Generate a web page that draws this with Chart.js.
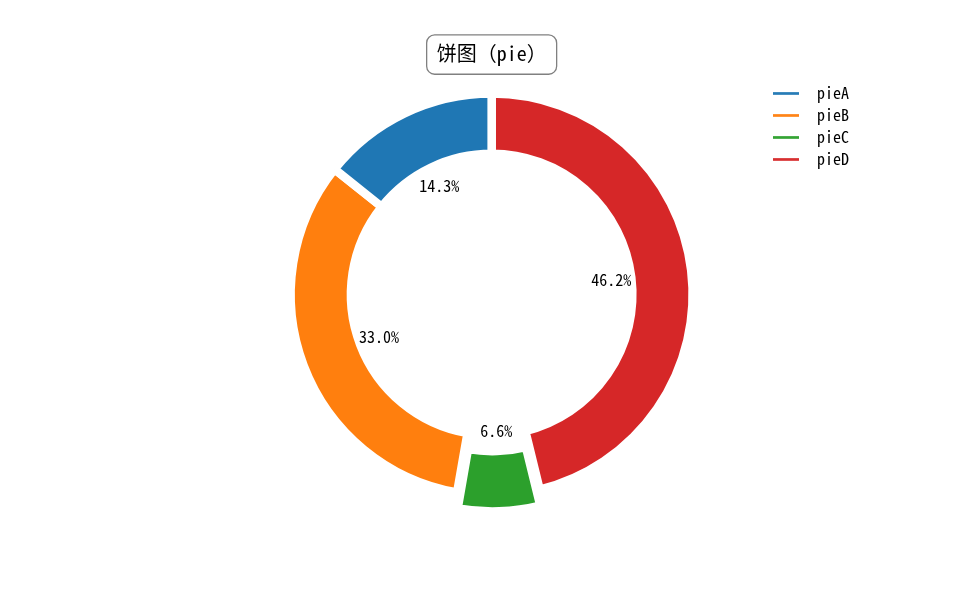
<!DOCTYPE html>
<html lang="zh">
<head>
<meta charset="UTF-8">
<title>饼图（pie）</title>
<script src="https://cdn.jsdelivr.net/npm/chart.js"></script>
<style>
  html, body { margin: 0; padding: 0; background: #fff; }
  #wrap { width: 960px; height: 600px; }
</style>
</head>
<body>
<div id="wrap"><canvas id="pieChart"></canvas></div>
<script>
const categories = ['pieA', 'pieB', 'pieC', 'pieD'];
const shares = [14.3, 33.0, 6.6, 46.2];
const colors = ['#1f77b4', '#ff7f0e', '#2ca02c', '#d62728'];
const explodePx = [0, 0, 16, 0];

const FONT = '"Noto Sans Mono CJK SC", "DejaVu Sans Mono", "Noto Sans CJK SC", monospace';
const TITLE_SIZE = 20;

// the reference goes counter-clockwise from 12 o'clock, Chart.js goes clockwise,
// so the dataset gets the categories in reverse
const order = categories.map((_, i) => categories.length - 1 - i);
const total = shares.reduce((a, b) => a + b, 0);
const pct = k => (shares[k] / total * 100).toFixed(1) + '%';

// short line handle for the legend, with empty room after it
function legendLine(color) {
  const c = document.createElement('canvas');
  c.width = 36;
  c.height = 3;
  const g = c.getContext('2d');
  g.fillStyle = color;
  g.fillRect(0, 0.2, 26, 2.6);
  return c;
}

const explodePlugin = {
  id: 'explode',
  beforeDatasetDraw(chart, args) {
    const ctx = chart.ctx;
    args.meta.data.forEach((arc, j) => {
      const k = order[j];
      const mid = (arc.startAngle + arc.endAngle) / 2;
      ctx.save();
      ctx.translate(Math.cos(mid) * explodePx[k], Math.sin(mid) * explodePx[k]);
      arc.draw(ctx);
      ctx.restore();
    });
    return false;
  }
};

const pctLabels = {
  id: 'pctLabels',
  afterDatasetsDraw(chart) {
    const ctx = chart.ctx;
    const meta = chart.getDatasetMeta(0);
    ctx.save();
    ctx.font = '16px ' + FONT;
    ctx.fillStyle = '#000';
    ctx.textAlign = 'center';
    ctx.textBaseline = 'middle';
    meta.data.forEach((arc, j) => {
      const k = order[j];
      const mid = (arc.startAngle + arc.endAngle) / 2;
      const d = explodePx[k] + 0.6 * arc.outerRadius;
      ctx.fillText(pct(k), arc.x + Math.cos(mid) * d, arc.y + Math.sin(mid) * d);
    });
    ctx.restore();
  }
};

const titleBox = {
  id: 'titleBox',
  afterDraw(chart) {
    const t = chart.titleBlock;
    if (!t) return;
    const ctx = chart.ctx;
    const opts = t.options;
    const cx = (t.left + t.right) / 2;
    const cy = t.top + opts.padding.top + TITLE_SIZE * 1.2 / 2 + 1.1;
    ctx.save();
    ctx.font = TITLE_SIZE + 'px ' + FONT;
    const w = ctx.measureText(opts.text).width + 20;
    const h = 39.3;
    const x = cx - w / 2, y = cy - h / 2, r = 8;
    ctx.beginPath();
    ctx.moveTo(x + r, y);
    ctx.arcTo(x + w, y, x + w, y + h, r);
    ctx.arcTo(x + w, y + h, x, y + h, r);
    ctx.arcTo(x, y + h, x, y, r);
    ctx.arcTo(x, y, x + w, y, r);
    ctx.closePath();
    ctx.lineWidth = 1.3;
    ctx.strokeStyle = '#808080';
    ctx.stroke();
    ctx.restore();
  }
};

new Chart(document.getElementById('pieChart'), {
  type: 'doughnut',
  data: {
    labels: order.map(k => categories[k]),
    datasets: [{
      data: order.map(k => shares[k]),
      backgroundColor: order.map(k => colors[k]),
      borderColor: '#ffffff',
      borderWidth: 8.5,
      hoverOffset: 0,
      clip: false
    }]
  },
  options: {
    responsive: true,
    maintainAspectRatio: false,
    animation: false,
    events: [],
    radius: 201,
    cutout: '70%',
    rotation: 0,
    layout: {
      padding: { top: 20, left: 216.3, right: 101, bottom: 90.3 }
    },
    plugins: {
      title: {
        display: true,
        text: '饼图（pie）',
        fullSize: false,
        color: '#000',
        font: { family: FONT, size: TITLE_SIZE, weight: 'normal' },
        padding: { top: 21.5, bottom: 13.8 }
      },
      legend: {
        position: 'right',
        align: 'start',
        fullSize: false,
        labels: {
          font: { family: FONT, size: 16 },
          color: '#000',
          padding: 6,
          usePointStyle: true,
          pointStyleWidth: 36,
          generateLabels: () => categories.map((name, k) => ({
            text: name,
            pointStyle: legendLine(colors[k]),
            fillStyle: colors[k],
            strokeStyle: colors[k],
            lineWidth: 0,
            fontColor: '#000',
            hidden: false,
            index: order.indexOf(k)
          }))
        }
      },
      tooltip: { enabled: false }
    }
  },
  plugins: [explodePlugin, pctLabels, titleBox]
});
</script>
</body>
</html>
